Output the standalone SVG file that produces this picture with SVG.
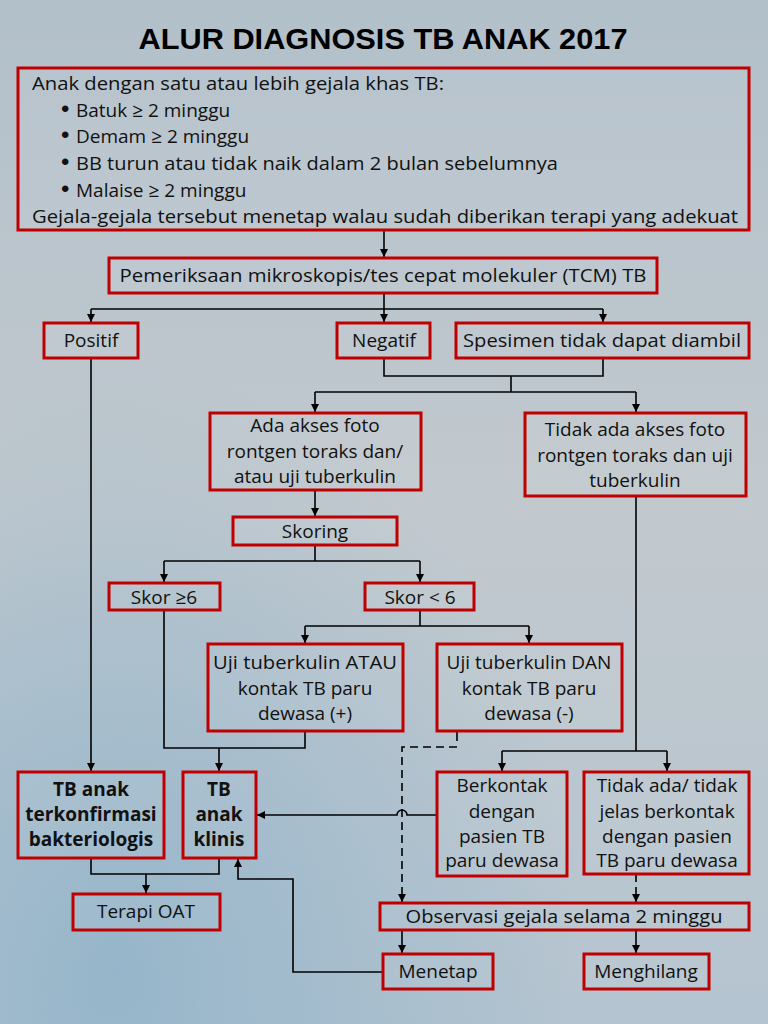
<svg xmlns="http://www.w3.org/2000/svg" width="768" height="1024" viewBox="0 0 768 1024">
<defs>
<linearGradient id="bg" x1="0" y1="0" x2="0" y2="1">
<stop offset="0" stop-color="#b2c0ca"/>
<stop offset="0.5" stop-color="#c2c9ce"/>
<stop offset="1" stop-color="#b4c4d0"/>
</linearGradient>
<radialGradient id="glow" cx="0.15" cy="0.95" r="0.6">
<stop offset="0" stop-color="#8fb2c9" stop-opacity="0.8"/>
<stop offset="1" stop-color="#8fb2c9" stop-opacity="0"/>
</radialGradient>
<marker id="ah" viewBox="0 0 10 10" refX="10" refY="5" markerWidth="8" markerHeight="8" markerUnits="userSpaceOnUse" orient="auto">
<path d="M0,0 L10,5 L0,10 z" fill="#000"/>
</marker>
</defs>
<style>
.box{fill:#ffffff;fill-opacity:0.06;stroke:#c00000;stroke-width:3}
.t{font-family:"Open Sans","Liberation Sans",sans-serif;font-size:19px;fill:#111}
.bu{font-family:"Liberation Sans",sans-serif;font-size:24px}
.c{text-anchor:middle}
.b{font-weight:bold}
.ln{fill:none;stroke:#000;stroke-width:1.6}
.ar{marker-end:url(#ah)}
.dash{stroke-dasharray:8,5}
.title{font-family:"Liberation Sans",Arial,sans-serif;font-weight:bold;font-size:30px;fill:#000;text-anchor:middle}
</style>
<rect width="768" height="1024" fill="url(#bg)"/>
<rect width="768" height="1024" fill="url(#glow)"/>
<text class="title" x="383" y="49" textLength="489" lengthAdjust="spacingAndGlyphs">ALUR DIAGNOSIS TB ANAK 2017</text>

<g id="connectors">
<path class="ln ar" d="M384,231 V257"/>
<path class="ln ar" d="M384,293 V322"/>
<path class="ln" d="M91,309 H603"/>
<path class="ln ar" d="M91,309 V322"/>
<path class="ln ar" d="M603,309 V322"/>
<path class="ln" d="M384,358 V376 H603 V358"/>
<path class="ln" d="M511,376 V392"/>
<path class="ln" d="M315,392 H636"/>
<path class="ln ar" d="M315,392 V412"/>
<path class="ln ar" d="M636,392 V412"/>
<path class="ln ar" d="M91,358 V771"/>
<path class="ln ar" d="M315,490 V516"/>
<path class="ln" d="M315,545 V561"/>
<path class="ln" d="M164,561 H420"/>
<path class="ln ar" d="M164,561 V582"/>
<path class="ln ar" d="M420,561 V582"/>
<path class="ln" d="M420,610 V626"/>
<path class="ln" d="M305,626 H529"/>
<path class="ln ar" d="M305,626 V643"/>
<path class="ln ar" d="M529,626 V643"/>
<path class="ln" d="M164,610 V748 H305 V731"/>
<path class="ln ar" d="M219,748 V771"/>
<path class="ln" d="M457,731 V741"/>
<path class="ln dash ar" d="M457,747 H402 V902"/>
<path class="ln" d="M636,496 V751"/>
<path class="ln" d="M502,751 H667"/>
<path class="ln ar" d="M502,751 V771"/>
<path class="ln ar" d="M667,751 V771"/>
<path class="ln ar" d="M437,815 H407 a5,5 0 0,0 -10,0 H257"/>
<path class="ln" d="M91,858 V874 H219 V858"/>
<path class="ln ar" d="M146,874 V893"/>
<path class="ln dash ar" d="M636,874 V902"/>
<path class="ln ar" d="M402,930 V953"/>
<path class="ln ar" d="M636,930 V953"/>
<path class="ln ar" d="M383,972 H293 V879 H238 V859"/>
</g>

<g id="gejala">
<rect class="box" x="18" y="68" width="731" height="162"/>
<text class="t" x="32" y="90" textLength="412" lengthAdjust="spacingAndGlyphs">Anak dengan satu atau lebih gejala khas TB:</text>
<text class="t" x="61" y="117"><tspan class="bu">•</tspan><tspan x="76">Batuk ≥ 2 minggu</tspan></text>
<text class="t" x="61" y="143"><tspan class="bu">•</tspan><tspan x="76">Demam ≥ 2 minggu</tspan></text>
<text class="t" x="61" y="170"><tspan class="bu">•</tspan><tspan x="76" textLength="482" lengthAdjust="spacingAndGlyphs">BB turun atau tidak naik dalam 2 bulan sebelumnya</tspan></text>
<text class="t" x="61" y="197"><tspan class="bu">•</tspan><tspan x="76">Malaise ≥ 2 minggu</tspan></text>
<text class="t" x="32" y="223" textLength="706" lengthAdjust="spacingAndGlyphs">Gejala-gejala tersebut menetap walau sudah diberikan terapi yang adekuat</text>
</g>
<g id="pemeriksaan">
<rect class="box" x="109" y="258" width="548" height="35"/>
<text class="t c" x="383" y="282" textLength="527" lengthAdjust="spacingAndGlyphs">Pemeriksaan mikroskopis/tes cepat molekuler (TCM) TB</text>
</g>
<g id="positif">
<rect class="box" x="44" y="323" width="94" height="35"/>
<text class="t c" x="91" y="347">Positif</text>
</g>
<g id="negatif">
<rect class="box" x="337" y="323" width="93" height="35"/>
<text class="t c" x="384" y="347">Negatif</text>
</g>
<g id="spesimen">
<rect class="box" x="456" y="323" width="293" height="35"/>
<text class="t c" x="602" y="347" textLength="278" lengthAdjust="spacingAndGlyphs">Spesimen tidak dapat diambil</text>
</g>
<g id="ada-akses">
<rect class="box" x="210" y="413" width="211" height="77"/>
<text class="t c" x="315" y="432">Ada akses foto</text>
<text class="t c" x="315" y="458">rontgen toraks dan/</text>
<text class="t c" x="315" y="483">atau uji tuberkulin</text>
</g>
<g id="tidak-akses">
<rect class="box" x="525" y="413" width="221" height="83"/>
<text class="t c" x="635" y="436">Tidak ada akses foto</text>
<text class="t c" x="635" y="462">rontgen toraks dan uji</text>
<text class="t c" x="635" y="487">tuberkulin</text>
</g>
<g id="skoring">
<rect class="box" x="233" y="517" width="164" height="28"/>
<text class="t c" x="315" y="538">Skoring</text>
</g>
<g id="skor-ge6">
<rect class="box" x="109" y="583" width="111" height="27"/>
<text class="t c" x="164" y="604">Skor ≥6</text>
</g>
<g id="skor-lt6">
<rect class="box" x="365" y="583" width="109" height="27"/>
<text class="t c" x="420" y="604">Skor &lt; 6</text>
</g>
<g id="uji-atau">
<rect class="box" x="208" y="644" width="195" height="87"/>
<text class="t c" x="305" y="669" textLength="184" lengthAdjust="spacingAndGlyphs">Uji tuberkulin ATAU</text>
<text class="t c" x="305" y="695">kontak TB paru</text>
<text class="t c" x="305" y="720">dewasa (+)</text>
</g>
<g id="uji-dan">
<rect class="box" x="437" y="644" width="185" height="87"/>
<text class="t c" x="529" y="669">Uji tuberkulin DAN</text>
<text class="t c" x="529" y="695">kontak TB paru</text>
<text class="t c" x="529" y="720">dewasa (-)</text>
</g>
<g id="tb-bakteriologis">
<rect class="box" x="18" y="772" width="146" height="86"/>
<text class="t c b" x="91" y="796">TB anak</text>
<text class="t c b" x="91" y="821">terkonfirmasi</text>
<text class="t c b" x="91" y="846">bakteriologis</text>
</g>
<g id="tb-klinis">
<rect class="box" x="183" y="772" width="73" height="86"/>
<text class="t c b" x="219" y="796">TB</text>
<text class="t c b" x="219" y="821">anak</text>
<text class="t c b" x="219" y="846">klinis</text>
</g>
<g id="berkontak">
<rect class="box" x="437" y="772" width="130" height="104"/>
<text class="t c" x="502" y="792">Berkontak</text>
<text class="t c" x="502" y="818">dengan</text>
<text class="t c" x="502" y="843">pasien TB</text>
<text class="t c" x="502" y="867">paru dewasa</text>
</g>
<g id="tidak-berkontak">
<rect class="box" x="584" y="772" width="165" height="102"/>
<text class="t c" x="667" y="792">Tidak ada/ tidak</text>
<text class="t c" x="667" y="818">jelas berkontak</text>
<text class="t c" x="667" y="843">dengan pasien</text>
<text class="t c" x="667" y="867">TB paru dewasa</text>
</g>
<g id="terapi-oat">
<rect class="box" x="73" y="894" width="147" height="36"/>
<text class="t c" x="146" y="918">Terapi OAT</text>
</g>
<g id="observasi">
<rect class="box" x="380" y="903" width="369" height="27"/>
<text class="t c" x="564" y="923" textLength="317" lengthAdjust="spacingAndGlyphs">Observasi gejala selama 2 minggu</text>
</g>
<g id="menetap">
<rect class="box" x="383" y="954" width="110" height="35"/>
<text class="t c" x="438" y="978">Menetap</text>
</g>
<g id="menghilang">
<rect class="box" x="584" y="954" width="125" height="35"/>
<text class="t c" x="646" y="978">Menghilang</text>
</g>
</svg>
